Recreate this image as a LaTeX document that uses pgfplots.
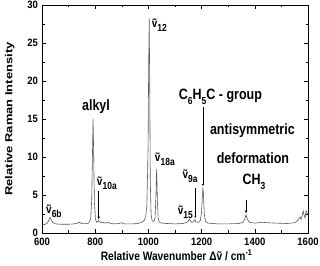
\documentclass[border=0pt]{standalone}
\usepackage{fontspec}
\setmainfont{Liberation Sans}
\usepackage{pgfplots}
\pgfplotsset{compat=1.18}
\usetikzlibrary{arrows.meta}
\newcommand{\vs}[1]{\scalebox{1}[1.2]{#1}}
\newcommand{\ts}[1]{\scalebox{1}[1.12]{#1}}
\newcommand{\sub}[1]{\raisebox{-0.6ex}{\fontsize{8.5}{9}\selectfont #1}}
\begin{document}
\begin{tikzpicture}
\begin{axis}[
  scale only axis, width=266pt, height=228pt,
  xmin=600, xmax=1600, ymin=0, ymax=30,
  xtick={600,800,...,1600}, ytick={0,5,...,30},
  minor x tick num=1, minor y tick num=1,
  tick align=inside, major tick length=4pt, minor tick length=2.5pt,
  xtick pos=both, ytick pos=both,
  xticklabel pos=lower, yticklabel pos=left,
  /pgf/number format/assume math mode=true,
  /pgf/number format/1000 sep={},
  xticklabel={\ts{\pgfmathprintnumber{\tick}}},
  yticklabel={\ts{\pgfmathprintnumber{\tick}}},
  ticklabel style={font=\bfseries\fontsize{9.5}{11}\selectfont},
  xticklabel style={yshift=-2pt},
  yticklabel style={xshift=-0.5pt},
  xlabel={\vs{Relative Wavenumber Δṽ / cm\textsuperscript{-1}}},
  ylabel={\scalebox{1.27}[1]{Relative Raman Intensity}},
  label style={font=\bfseries\fontsize{10.2}{12}\selectfont},
  xlabel style={at={(axis description cs:0.506,-0.097)}, anchor=center},
  ylabel style={at={(axis description cs:-0.121,0.5)}, anchor=center},
  axis line style={line width=0.8pt},
  every tick/.style={black, line width=0.6pt},
  clip=true,
]
\addplot[black!65, line width=0.6pt] coordinates {
(600,1.10) (610,1.12) (620,1.3) (626,1.7) (630,2.05) (634,1.8) (640,1.4) (650,1.2)
(670,1.15) (700,1.15) (720,1.2) (735,1.3) (740,1.45) (745,1.3) (760,1.2) (775,1.3)
(783,1.8) (787,4.5) (790,11) (792,15.0) (794,11) (797,4.0) (801,1.8) (806,1.4)
(810,1.5) (813,1.65) (816,1.5) (822,1.35) (830,1.4) (840,1.3) (848,1.4) (855,1.3)
(870,1.2) (890,1.25) (900,1.35) (910,1.2) (940,1.2) (960,1.25) (975,1.4) (985,1.7)
(990,2.2) (994,3.5) (997,8) (999,12) (1001,22) (1003,28.2) (1005,20) (1007,7)
(1010,2.5) (1014,1.6) (1020,1.5) (1025,2.0) (1028,4.5) (1031,8.4) (1034,4.0) (1037,1.8)
(1042,1.4) (1050,1.3) (1070,1.25) (1100,1.2) (1130,1.25) (1145,1.4) (1150,1.6) (1154,1.85)
(1158,1.6) (1163,1.4) (1170,1.5) (1175,1.75) (1179,1.45) (1186,1.4) (1195,1.6) (1200,2.8)
(1203,5.0) (1205,6.0) (1207,5.0) (1210,2.5) (1215,1.5) (1225,1.3) (1260,1.2) (1300,1.2)
(1340,1.25) (1355,1.4) (1362,1.8) (1367,2.4) (1372,1.8) (1380,1.4) (1400,1.3) (1430,1.4)
(1450,1.35) (1480,1.3) (1520,1.25) (1550,1.35) (1560,1.6) (1566,1.9) (1570,2.1) (1574,1.8)
(1578,2.3) (1582,2.9) (1585,2.4) (1589,2.0) (1593,2.9) (1597,2.6) (1600,2.4)
};
% annotations
\draw[line width=0.5pt, -{Stealth[length=3pt,width=2.5pt]}] (axis cs:813,5.5) -- (axis cs:813,1.8);
\draw[line width=0.5pt, -{Stealth[length=3pt,width=2.5pt]}] (axis cs:1367,4.4) -- (axis cs:1367,2.6);
\draw[line width=0.5pt, -{Stealth[length=2pt,width=2pt]}] (axis cs:1176,5.9) -- (axis cs:1176,2.0);
\draw[line width=0.5pt, -{Stealth[length=2pt,width=2pt]}] (axis cs:1205,16.6) -- (axis cs:1205,6.2);
\begin{scope}[every node/.style={anchor=west, font=\bfseries\fontsize{10}{12}\selectfont, inner sep=0pt}]
\node at (axis cs:1012,27.3) {\vs{ṽ\sub{12}}};
\node at (axis cs:806,6.6) {\vs{ṽ\sub{10a}}};
\node at (axis cs:615,2.9) {\vs{ṽ\sub{6b}}};
\node at (axis cs:1024,9.7) {\vs{ṽ\sub{18a}}};
\node at (axis cs:1110,2.7) {\vs{ṽ\sub{15}}};
\node at (axis cs:1128,7.5) {\vs{ṽ\sub{9a}}};
\end{scope}
\begin{scope}[every node/.style={font=\bfseries\fontsize{12.5}{14}\selectfont, inner sep=0pt}]
\node at (axis cs:803,16.6) {\vs{alkyl}};
\node at (axis cs:1271,17.9) {\vs{C\sub{6}H\sub{5}C - group}};
\node at (axis cs:1391,13.5) {\vs{antisymmetric}};
\node at (axis cs:1393,9.8) {\vs{deformation}};
\node at (axis cs:1397,6.7) {\vs{CH\sub{3}}};
\end{scope}
\coordinate (ll) at (rel axis cs:0,0);
\coordinate (ur) at (rel axis cs:1,1);
\end{axis}
\pgfresetboundingbox
\path ([xshift=-42pt,yshift=-33pt]ll) rectangle ([xshift=12pt,yshift=5pt]ur);
\end{tikzpicture}
\end{document}
